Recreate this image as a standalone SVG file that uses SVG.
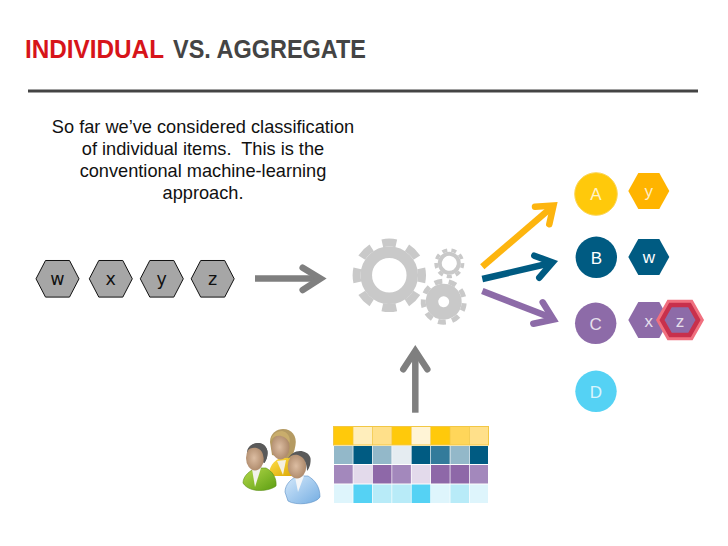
<svg xmlns="http://www.w3.org/2000/svg" width="728" height="546" viewBox="0 0 728 546">
<style>
text{font-family:"Liberation Sans",Arial,sans-serif}
.title{font-size:25px;font-weight:bold}
.body{font-size:18.2px;fill:#111;text-anchor:middle;white-space:pre}
.hex{fill:#a6a6a6;stroke:#111;stroke-width:1}
.hl{font-family:"DejaVu Sans",sans-serif;font-size:17.5px;fill:#111;text-anchor:middle}
.cl{font-size:17px;text-anchor:middle;fill:#fff;fill-opacity:.8}
.line{fill:none;stroke-width:6.5}
.head{fill:none;stroke-width:6.5;stroke-linecap:round;stroke-linejoin:miter}
.gear{fill:none;stroke:#c9c9c9}
</style>
<defs>
<polygon id="h" points="-21.5,0 -12,-18.3 12,-18.3 21.5,0 12,18.3 -12,18.3"/>
<polygon id="h2" points="-20.5,0 -10.5,-18 10.5,-18 20.5,0 10.5,18 -10.5,18"/>
<polygon id="h3" points="-18,0 -9.5,-15 9.5,-15 18,0 9.5,15 -9.5,15"/>
<linearGradient id="gr" x1="0" y1="0" x2="1" y2="1"><stop offset="0" stop-color="#b5d94a"/><stop offset="1" stop-color="#5c9e12"/></linearGradient>
<linearGradient id="bl" x1="0" y1="0" x2="1" y2="1"><stop offset="0" stop-color="#d5e9fb"/><stop offset="1" stop-color="#74ade2"/></linearGradient>
<linearGradient id="ye" x1="0" y1="0" x2="1" y2="1"><stop offset="0" stop-color="#ffe04a"/><stop offset="1" stop-color="#d9a400"/></linearGradient>
<radialGradient id="sk" cx=".45" cy=".5" r=".7"><stop offset="0" stop-color="#dcbda2"/><stop offset="1" stop-color="#a07a5a"/></radialGradient>
</defs>
<g id="title">
<text class="title" x="25" y="58" fill="#d7141a" textLength="139" lengthAdjust="spacingAndGlyphs">INDIVIDUAL</text>
<text class="title" x="173" y="58" fill="#444" textLength="193" lengthAdjust="spacingAndGlyphs">VS. AGGREGATE</text>
<rect x="28" y="89.5" width="670" height="3" fill="#444"/></g>
<g id="description">
<text class="body" x="203" y="133">So far we’ve considered classification</text>
<text class="body" x="203" y="155">of individual items.  This is the</text>
<text class="body" x="203" y="177">conventional machine-learning</text>
<text class="body" x="203" y="199">approach.</text></g>
<g id="item-w"><use href="#h" class="hex" x="57.5" y="278.8"/><text class="hl" x="57.5" y="285">w</text></g>
<g id="item-x"><use href="#h" class="hex" x="110.8" y="278.8"/><text class="hl" x="110.8" y="285">x</text></g>
<g id="item-y"><use href="#h" class="hex" x="161.8" y="278.8"/><text class="hl" x="161.8" y="285">y</text></g>
<g id="item-z"><use href="#h" class="hex" x="212.7" y="278.8"/><text class="hl" x="212.7" y="285">z</text></g>
<g id="gears">
<g transform="translate(389.3 275.3)"><circle class="gear" r="23" stroke-width="11.5"/><circle class="gear" r="32.7" stroke-width="8" pathLength="8" stroke-dasharray=".55 .45" stroke-dashoffset=".275"/></g>
<g transform="translate(449.3 263.3) rotate(10)"><circle class="gear" r="9.5" stroke-width="4"/><circle class="gear" r="13.2" stroke-width="3.6" pathLength="9" stroke-dasharray=".55 .45" stroke-dashoffset=".275"/></g>
<g transform="translate(443.7 301.7) rotate(15)"><circle class="gear" r="11.75" stroke-width="12.5"/><circle class="gear" r="20.5" stroke-width="5" pathLength="9" stroke-dasharray=".55 .45" stroke-dashoffset=".275"/></g>
</g>
<g id="connectors">
<g stroke="#7f7f7f"><path class="line" d="M255 278.4H318"/><path class="head" d="M302.7 267.7L320.5 278.6L302.7 290"/>
<path class="line" d="M415.3 412.7V354"/><path class="head" d="M403.3 369.3L415.3 351L427.3 369.3"/></g>
<g stroke="#fdb50f"><path class="line" d="M482.3 266.7L552 207"/><path class="head" d="M535 206.7L553.5 205.5L549.3 224.3"/></g>
<g stroke="#005b82"><path class="line" d="M482.3 279L551 263"/><path class="head" d="M534.3 255.7L552.5 262.5L539.3 277.7"/></g>
<g stroke="#8d6ba8"><path class="line" d="M482.3 291L552 318"/><path class="head" d="M542.7 302.3L553.5 319.5L533.3 323.7"/></g>
</g>
<g id="class-a"><circle cx="596" cy="194" r="21.3" fill="#ffc90b" stroke="#fbd65a"/><text class="cl" x="596" y="200">A</text></g>
<g id="class-b"><circle cx="596.3" cy="257.3" r="20.7" fill="#005b82"/><text class="cl" x="596.3" y="263.5" style="fill-opacity:1">B</text></g>
<g id="class-c"><circle cx="595.7" cy="323.3" r="20.7" fill="#8d6ba8"/><text class="cl" x="595.7" y="330">C</text></g>
<g id="class-d"><circle cx="596" cy="391.3" r="20.7" fill="#55d2f4"/><text class="cl" x="596" y="397.7">D</text></g>
<g id="result-y"><use href="#h2" x="648.8" y="191" fill="#ffb400"/><text class="cl" x="648.8" y="197">y</text></g>
<g id="result-w"><use href="#h2" x="648.8" y="257" fill="#005b82"/><text class="cl" x="648.8" y="263" style="fill-opacity:1">w</text></g>
<g id="result-x"><use href="#h2" x="648.8" y="320" fill="#8d6ba8"/><text class="cl" x="648.8" y="326.5">x</text></g>
<g id="result-z"><use href="#h3" x="680" y="320" fill="none" stroke="#f0707f" stroke-width="10.5"/><use href="#h3" x="680" y="320" fill="#8d6ba8" stroke="#c8304c" stroke-width="4.5"/><text class="cl" x="680" y="326.5">z</text></g>
<g id="people">
<g id="person-yellow">
<path d="M270 442C270 433 277 429 283 429C292 429 297 436 295.5 445C294.5 451 293 455 290 459L272 455Z" fill="#b49a62"/>
<path d="M270 476C268 472 270 463 280 458L292 458L297 476L283 476Z" fill="url(#ye)"/>
<path d="M277 461L283 475L286 460Z" fill="#f4f0e0"/>
<ellipse cx="280.5" cy="447" rx="9" ry="12.5" fill="url(#sk)"/>
<path d="M271 440C275 434 285 434 289.5 443C291 437 287 431.5 282 431C276 431 272 435 271 440Z" fill="#c9ad6c"/>
</g>
<g id="person-green">
<path d="M243 483C243 476 250 470 257 468L266 468C272 471 277 478 276 486C270 491 250 494 243 483Z" fill="url(#gr)" stroke="#5c8f18" stroke-width=".6"/>
<path d="M252 469L255 487L261 468Z" fill="#f2f2ea"/>
<path d="M247 452C248 445 254 443 258 443C264 443 268 448 267.5 454C267 458 266 461 264.5 463L250 458Z" fill="#5a5a5a"/>
<ellipse cx="255" cy="458" rx="9" ry="12.5" fill="url(#sk)"/>
<path d="M247 451C250 447 256 447 259 449C263 451 264 457 264 463C266.5 460 268 456 267.5 451C266 445 262 443 258 443C253 443 249 446 247 451Z" fill="#5a5a5a"/>
</g>
<g id="person-blue">
<path d="M285 492C285 484 292 478 298 476L308 476C315 480 320 487 320 497C316 504 296 506 288 501Z" fill="url(#bl)" stroke="#5b8fc4" stroke-width=".6"/>
<path d="M295 477L298 492L304 476Z" fill="#f4f6f8"/>
<ellipse cx="297" cy="466" rx="9.3" ry="12.5" fill="url(#sk)"/>
<path d="M288 459C291 454 297 454 300 456C305 458 307 465 307 471C310 468 311 462 310.5 458C309 453 304 451 300 451C295 451 290 454 288 459Z" fill="#5a5a5a"/>
</g>
</g>
<g id="table">
<g id="row-1">
<rect x="333" y="426" width="156" height="19.5" fill="#f2c744"/>
<rect x="334" y="427" width="18.7" height="17.5" fill="#ffc90b"/><rect x="353.4" y="427" width="18.7" height="17.5" fill="#ffeebc"/><rect x="372.8" y="427" width="18.7" height="17.5" fill="#ffe08a"/><rect x="392.2" y="427" width="18.7" height="17.5" fill="#ffc90b"/><rect x="411.6" y="427" width="18.7" height="17.5" fill="#fff4d6"/><rect x="431" y="427" width="18.7" height="17.5" fill="#ffc90b"/><rect x="450.4" y="427" width="18.7" height="17.5" fill="#ffd65a"/><rect x="469.8" y="427" width="18.2" height="17.5" fill="#ffe08a"/>
</g>
<g id="row-2">
<rect x="334" y="446" width="18.7" height="18" fill="#93b8c9"/><rect x="353.4" y="446" width="18.7" height="18" fill="#005b82"/><rect x="372.8" y="446" width="18.7" height="18" fill="#93b8c9"/><rect x="392.2" y="446" width="18.7" height="18" fill="#e5ecf1"/><rect x="411.6" y="446" width="18.7" height="18" fill="#005b82"/><rect x="431" y="446" width="18.7" height="18" fill="#337b9b"/><rect x="450.4" y="446" width="18.7" height="18" fill="#93b8c9"/><rect x="469.8" y="446" width="18.2" height="18" fill="#005b82"/>
</g>
<g id="row-3">
<rect x="334" y="465" width="18.7" height="18.5" fill="#a388bc"/><rect x="353.4" y="465" width="18.7" height="18.5" fill="#e3daeb"/><rect x="372.8" y="465" width="18.7" height="18.5" fill="#8e68a8"/><rect x="392.2" y="465" width="18.7" height="18.5" fill="#a388bc"/><rect x="411.6" y="465" width="18.7" height="18.5" fill="#e3daeb"/><rect x="431" y="465" width="18.7" height="18.5" fill="#8e68a8"/><rect x="450.4" y="465" width="18.7" height="18.5" fill="#8e68a8"/><rect x="469.8" y="465" width="18.2" height="18.5" fill="#a388bc"/>
</g>
<g id="row-4">
<rect x="334" y="484.5" width="18.7" height="18.5" fill="#def5fc"/><rect x="353.4" y="484.5" width="18.7" height="18.5" fill="#55d2f4"/><rect x="372.8" y="484.5" width="18.7" height="18.5" fill="#b8ebf8"/><rect x="392.2" y="484.5" width="18.7" height="18.5" fill="#b8ebf8"/><rect x="411.6" y="484.5" width="18.7" height="18.5" fill="#55d2f4"/><rect x="431" y="484.5" width="18.7" height="18.5" fill="#def5fc"/><rect x="450.4" y="484.5" width="18.7" height="18.5" fill="#b8ebf8"/><rect x="469.8" y="484.5" width="18.2" height="18.5" fill="#def5fc"/>
</g>
</g>
</svg>
